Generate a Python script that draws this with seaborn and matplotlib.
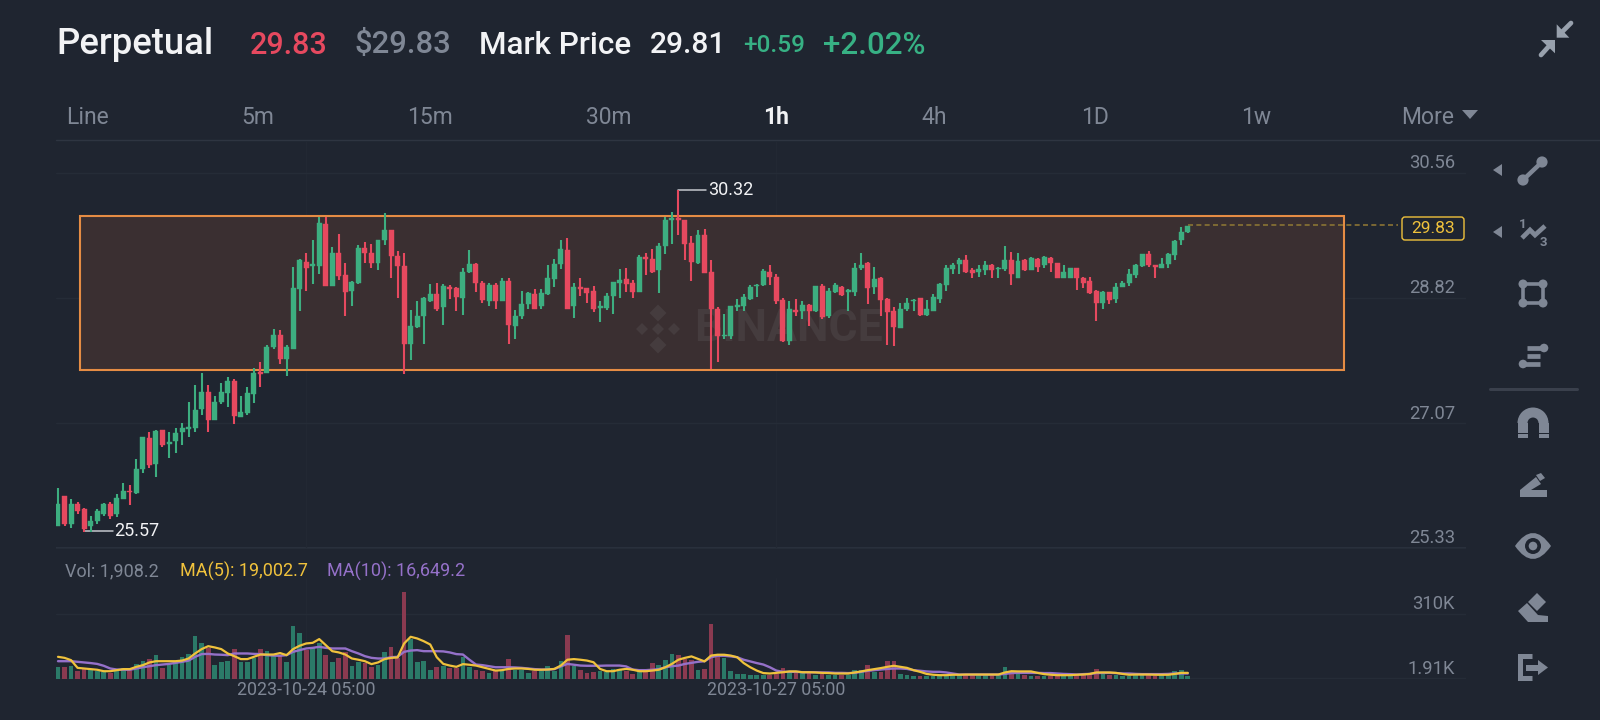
import numpy as np
import pandas as pd
import matplotlib
matplotlib.use("Agg")
import matplotlib.pyplot as plt
from matplotlib.patches import Rectangle, Polygon, Circle, Wedge, PathPatch, FancyBboxPatch
from matplotlib.path import Path
from matplotlib.transforms import ScaledTranslation
import seaborn as sns

open_px = [25.64,26.05,25.66,25.94,25.88,25.64,25.71,25.80,25.94,25.81,
 26.02,26.13,26.10,26.43,26.87,26.50,26.97,26.78,26.82,26.95,
 26.99,27.01,27.27,27.51,27.12,27.36,27.49,27.66,27.16,27.21,
 27.48,27.78,27.77,28.14,28.30,27.96,28.11,28.94,29.32,29.26,
 29.26,29.85,28.99,29.45,29.14,28.91,29.02,29.52,29.45,29.30,
 29.62,29.77,29.40,29.26,28.18,28.41,28.56,28.78,28.87,28.69,
 28.97,28.95,28.81,29.18,29.29,29.03,28.77,29.00,28.77,29.05,
 28.43,28.56,28.73,28.87,28.70,28.87,29.08,29.29,29.49,28.71,
 28.97,28.95,28.91,28.68,28.68,28.84,29.03,29.08,29.03,28.90,
 29.39,29.36,29.21,29.54,29.90,29.93,29.90,29.58,29.31,29.70,
 29.18,28.67,28.28,28.29,28.69,28.70,28.80,28.98,29.00,29.18,
 29.11,28.79,28.22,28.65,28.64,28.72,28.63,28.98,28.56,28.90,
 28.97,28.90,28.90,29.23,29.30,28.97,29.10,28.80,28.63,28.40,
 28.66,28.77,28.81,28.58,28.64,28.80,29.00,29.22,29.29,29.34,
 29.21,29.18,29.21,29.28,29.22,29.22,29.35,29.10,29.34,29.21,
 29.36,29.28,29.38,29.31,29.10,29.10,29.23,29.10,29.05,28.92,
 28.74,28.90,28.80,28.97,29.02,29.14,29.26,29.43,29.27,29.24,
 29.29,29.42,29.62,29.73]
close_px = [25.95,25.66,25.94,25.85,25.60,25.71,25.84,25.94,25.78,26.03,
 26.12,26.11,26.43,26.88,26.49,26.96,26.77,26.81,26.94,27.00,
 27.02,27.26,27.51,27.12,27.37,27.50,27.66,27.17,27.22,27.49,
 27.77,27.75,28.14,28.30,27.96,28.13,28.95,29.34,29.24,29.29,
 29.86,28.98,29.45,29.12,28.90,29.04,29.52,29.45,29.30,29.62,
 29.77,29.40,29.26,28.18,28.43,28.57,28.81,28.87,28.67,28.98,
 28.94,28.83,29.18,29.29,29.02,28.79,29.00,28.78,29.05,28.44,
 28.57,28.73,28.89,28.67,28.88,29.09,29.29,29.50,28.67,28.97,
 28.94,28.89,28.66,28.70,28.84,29.04,29.07,29.01,28.90,29.39,
 29.36,29.18,29.54,29.91,29.93,29.90,29.57,29.32,29.70,29.17,
 28.67,28.29,28.30,28.70,28.72,28.83,28.97,29.00,29.19,29.11,
 28.77,28.22,28.67,28.62,28.72,28.63,28.98,28.55,28.92,29.00,
 28.86,28.93,29.24,29.28,28.96,29.08,28.79,28.62,28.41,28.67,
 28.74,28.79,28.58,28.66,28.83,29.01,29.24,29.28,29.35,29.18,
 29.16,29.22,29.28,29.21,29.24,29.34,29.15,29.33,29.21,29.37,
 29.25,29.39,29.30,29.10,29.18,29.23,29.09,29.02,28.88,28.74,
 28.90,28.79,28.97,29.03,29.15,29.27,29.43,29.27,29.25,29.29,
 29.43,29.61,29.73,29.82]
high_px = [26.17,26.05,26.01,25.97,25.89,25.77,25.87,25.96,25.97,26.09,
 26.23,26.21,26.57,26.88,26.95,26.97,26.97,26.95,27.00,27.07,
 27.37,27.60,27.77,27.61,27.45,27.63,27.71,27.69,27.45,27.57,
 27.84,27.93,28.16,28.38,28.37,28.16,29.25,29.36,29.45,29.63,
 29.95,29.95,29.53,29.71,29.31,29.05,29.56,29.60,29.57,29.63,
 30.00,29.77,29.47,29.45,28.65,28.77,28.83,29.01,29.02,29.01,
 29.00,28.97,29.24,29.49,29.31,29.05,29.02,29.03,29.10,29.10,
 28.65,28.92,28.90,28.94,28.94,29.28,29.36,29.63,29.66,29.03,
 29.09,28.96,28.99,28.77,28.89,29.04,29.22,29.24,29.07,29.41,
 29.44,29.50,29.59,29.94,30.01,30.32,29.91,29.68,29.77,29.78,
 29.34,28.69,28.60,28.70,28.80,28.87,29.00,29.01,29.22,29.27,
 29.15,28.82,28.77,28.80,28.77,28.73,28.98,29.01,28.95,29.02,
 28.99,28.94,29.30,29.45,29.32,29.25,29.11,28.82,28.69,28.74,
 28.81,28.80,28.82,28.79,28.87,29.02,29.27,29.31,29.38,29.42,
 29.24,29.28,29.33,29.29,29.25,29.54,29.46,29.44,29.36,29.39,
 29.37,29.40,29.39,29.31,29.27,29.24,29.24,29.11,29.11,28.93,
 28.91,28.90,29.02,29.05,29.22,29.29,29.43,29.47,29.28,29.37,
 29.44,29.63,29.80,29.82]
low_px = [25.64,25.64,25.61,25.80,25.56,25.56,25.67,25.78,25.73,25.76,
 26.01,25.93,26.09,26.37,26.44,26.32,26.74,26.59,26.66,26.76,
 26.88,26.95,27.18,26.95,27.11,27.34,27.29,27.06,27.15,27.18,
 27.35,27.57,27.77,28.10,27.90,27.73,28.10,28.63,28.91,29.01,
 29.15,28.98,28.99,29.07,28.57,28.71,29.01,29.30,29.24,29.21,
 29.56,29.09,28.82,27.76,27.95,28.40,28.17,28.76,28.63,28.44,
 28.80,28.64,28.58,29.16,28.90,28.75,28.71,28.66,28.77,28.18,
 28.25,28.52,28.66,28.66,28.66,28.86,28.97,29.22,28.66,28.54,
 28.84,28.74,28.62,28.48,28.65,28.60,28.81,28.90,28.82,28.90,
 29.14,29.17,28.89,29.43,29.57,29.70,29.35,29.06,29.29,29.16,
 27.82,27.92,28.24,28.24,28.63,28.64,28.79,28.83,28.99,29.00,
 28.73,28.20,28.16,28.57,28.52,28.43,28.62,28.53,28.54,28.88,
 28.84,28.64,28.84,29.21,28.73,28.87,28.56,28.16,28.15,28.40,
 28.63,28.63,28.57,28.57,28.63,28.74,28.91,29.15,29.15,29.17,
 29.09,29.11,29.14,29.09,29.10,29.19,29.00,29.09,29.19,29.20,
 29.18,29.23,29.18,29.09,29.09,29.09,28.93,28.95,28.87,28.50,
 28.67,28.73,28.74,28.97,28.98,29.10,29.25,29.25,29.10,29.23,
 29.23,29.35,29.56,29.72]

volume_k = [56,56,61,37,45,40,37,29,27,37,51,40,69,85,93,112,51,67,77,101,
 117,206,168,144,67,80,83,141,80,80,96,141,134,112,112,80,254,218,136,152,
 168,115,77,96,125,59,80,72,56,67,125,152,96,413,189,80,83,43,54,62,
 51,51,102,54,43,38,27,34,34,94,43,42,27,34,38,59,38,83,208,59,
 43,26,32,35,30,46,46,38,22,30,34,74,66,90,118,115,94,90,43,46,
 262,102,99,35,22,22,19,19,19,19,22,50,26,26,24,24,19,21,19,18,
 16,19,40,40,66,32,32,82,85,21,19,11,13,11,11,11,16,16,16,19,
 16,16,16,19,19,53,32,21,19,14,13,13,14,14,16,13,16,19,24,45,
 21,19,19,13,13,24,16,16,14,16,19,35,40,10]
ma5_k = [104,99,88,51,48,45,42,35,35,40,45,45,56,64,77,83,83,83,83,86,
 96,120,141,155,149,141,120,107,93,93,104,115,115,115,122,112,141,157,168,171,
 189,160,131,125,115,96,90,83,69,77,93,99,101,168,200,192,179,163,102,70,
 62,56,69,66,62,54,46,38,40,46,48,48,46,42,42,43,46,62,90,93,
 90,86,78,46,35,35,42,46,42,35,35,38,42,54,70,90,99,106,94,82,
 110,114,114,110,102,74,54,38,26,24,27,30,34,34,30,30,29,27,26,24,
 24,24,29,34,40,45,50,56,61,56,51,40,32,22,18,16,16,18,18,19,
 19,19,19,19,19,29,35,34,34,34,27,21,18,16,16,16,18,19,22,29,
 29,29,27,22,18,19,19,19,18,18,18,22,27,27]
ma10_k = [83,83,83,80,77,74,70,61,48,43,42,42,48,54,59,64,67,70,75,80,
 86,104,117,118,115,114,112,120,120,120,118,117,112,110,109,112,128,136,144,147,
 152,147,144,144,144,131,120,107,99,96,96,102,104,128,134,136,131,131,131,130,
 125,117,115,90,67,64,59,54,54,54,53,51,48,45,43,43,45,58,70,66,
 62,61,61,61,62,62,62,58,43,40,40,42,45,54,59,62,70,75,80,83,
 102,109,109,106,102,90,82,74,67,54,38,32,32,32,30,30,30,29,29,27,
 27,26,27,32,37,40,43,46,48,48,46,40,37,34,32,32,29,24,19,19,
 19,19,19,19,19,22,26,27,27,27,27,26,26,24,22,21,19,21,22,26,
 27,27,26,24,24,22,21,21,21,21,22,24,24,24]

price_ticks = [30.56, 28.82, 27.07, 25.33]
volume_ticks = [1.91, 310]
volume_tick_labels = ["1.91K", "310K"]
date_ticks = [38, 110]
date_labels = ["2023-10-24 05:00", "2023-10-27 05:00"]
range_low, range_high = 27.81, 29.96
range_start, range_end = 3.4, 196.9
last_price = 29.83
peak_price, trough_price = 30.32, 25.57
peak_index, trough_index = 95, 4
tabs = ["Line", "5m", "15m", "30m", "1h", "4h", "1D", "1w", "More"]

BG = "#1f2530"
GREEN = "#3dae80"
RED = "#e6495f"
VGREEN = "#2b7a68"
VRED = "#8a3a50"
GRAY = "#7f8795"
TEXT = "#f2f3f5"
YELLOW = "#f0c23c"
PURPLE = "#9571c9"
ORANGE = "#e58c44"
GRID = "#252c37"

sns.set_theme(style="dark", rc={"axes.facecolor": "none", "figure.facecolor": BG,
                                "savefig.facecolor": BG, "axes.grid": False})
plt.rcParams["font.family"] = ["Roboto", "DejaVu Sans"]

fig = plt.figure(figsize=(16, 7.2), dpi=100)
def rect(l, t, r, b):
    return [l / 1600, 1 - b / 720, (r - l) / 1600, (b - t) / 720]

ov = fig.add_axes([0, 0, 1, 1], zorder=0)
ov.set_xlim(0, 1600); ov.set_ylim(720, 0); ov.axis("off")
ax = fig.add_axes(rect(56, 141, 1466, 549), zorder=2)
vx = fig.add_axes(rect(56, 578, 1466, 678.5), zorder=2)
lift = ScaledTranslation(0, 0.5 / 100, fig.dpi_scale_trans)

XLIM = (-0.306, 215.6)
candles = pd.DataFrame({"i": np.arange(len(open_px)), "open": open_px, "close": close_px,
                        "high": high_px, "low": low_px})
candles["up"] = candles["close"] >= candles["open"]
candles["color"] = np.where(candles["up"], GREEN, RED)

# price panel
ax.add_patch(Rectangle((range_start, range_low), range_end - range_start, range_high - range_low,
                       facecolor="#3a2f31", edgecolor=ORANGE, linewidth=1.5, zorder=1))
ax.vlines(candles["i"], candles["low"], candles["high"], colors=candles["color"], linewidth=1.5, zorder=3)
ax.bar(candles["i"], (candles["close"] - candles["open"]).abs(),
       bottom=candles[["open", "close"]].min(axis=1), width=0.76,
       color=candles["color"], edgecolor=candles["color"], linewidth=0.3, zorder=4)
ax.set_xlim(*XLIM); ax.set_ylim(25.316, 31.006)
ax.set_xticks(date_ticks); ax.set_xticklabels([])
ax.yaxis.tick_right()
ax.set_yticks(price_ticks, labels=[f"{v:.2f}" for v in price_ticks])
ax.tick_params(axis="both", length=0)
ax.tick_params(axis="y", pad=-7.9, labelsize=13.2, labelcolor=GRAY)
for lab in ax.get_yticklabels():
    lab.set_ha("right"); lab.set_va("bottom")
    lab.set_transform(lab.get_transform() + lift)
ax.grid(True, axis="y", color=GRID, linewidth=1, zorder=0)
ax.grid(True, axis="x", color="#222833", linewidth=1, zorder=0)
ax.axhline(price_ticks[-1], color="#2e3541", linewidth=1.2, zorder=0)
for s in ax.spines.values():
    s.set_visible(False)

# dashed last price
ax.plot([candles["i"].iloc[-1], 205.2], [last_price, last_price], color="#8a7434",
        linewidth=1.2, dashes=(3, 2), zorder=2)
# high / low markers
ax.plot([peak_index, peak_index, peak_index + 4.2], [high_px[peak_index], peak_price, peak_price],
        color="#c4c7cd", linewidth=1.1, zorder=2)
ax.text(peak_index + 4.5, peak_price, f"{peak_price:.2f}", color=TEXT, fontsize=13, va="center", zorder=6)
ax.plot([trough_index, trough_index + 4.4], [trough_price, trough_price], color="#c4c7cd", linewidth=1.1, zorder=2)
ax.text(trough_index + 4.6, trough_price, f"{trough_price:.2f}", color=TEXT, fontsize=13, va="center", zorder=6)

# watermark above the box fill, below the candles
WM = "#453c3e"
ax.text(694, 329, "BINANCE", transform=ov.transData, color=WM, fontsize=32,
        fontweight="bold", va="center", ha="left", zorder=2)
for dx, dy, r in [(0, -16, 8.5), (-16, 0, 6), (16, 0, 6), (0, 0, 6), (0, 16, 8.5)]:
    ax.add_patch(Polygon([(658 + dx, 329 + dy - r), (658 + dx + r, 329 + dy),
                          (658 + dx, 329 + dy + r), (658 + dx - r, 329 + dy)],
                         transform=ov.transData, facecolor=WM, edgecolor="none", zorder=2))

# last price tag
ov_tag = FancyBboxPatch((1402, 217), 62, 23, boxstyle="round,pad=0,rounding_size=3",
                        facecolor=BG, edgecolor=YELLOW, linewidth=1, zorder=5, transform=ov.transData)
ax.add_patch(ov_tag)
ax.text(1433, 228.5, f"{last_price:.2f}", transform=ov.transData, color=YELLOW, fontsize=12.5,
        ha="center", va="center", zorder=6)

# volume panel
vol = pd.DataFrame({"i": candles["i"], "vol": volume_k,
                    "dir": np.where(candles["up"], "up", "down")})
sns.barplot(data=vol, x="i", y="vol", hue="dir", palette={"up": VGREEN, "down": VRED},
            native_scale=True, dodge=False, width=0.72, saturation=1, legend=False,
            ax=vx, zorder=3, linewidth=0)
sns.lineplot(x=candles["i"], y=ma10_k, color=PURPLE, linewidth=1.7, ax=vx, zorder=4)
sns.lineplot(x=candles["i"], y=ma5_k, color=YELLOW, linewidth=1.6, ax=vx, zorder=5)
vx.set_xlim(*XLIM); vx.set_ylim(0, 482)
vx.set_xlabel(""); vx.set_ylabel("")
vx.set_xticks(date_ticks, labels=date_labels)
vx.yaxis.tick_right()
vx.set_yticks(volume_ticks, labels=volume_tick_labels)
vx.tick_params(axis="both", length=0)
vx.tick_params(axis="x", labelsize=12.8, labelcolor=GRAY, pad=1.5)
vx.tick_params(axis="y", pad=-7.9, labelsize=13.2, labelcolor=GRAY)
for lab in vx.get_yticklabels():
    lab.set_ha("right"); lab.set_va("bottom")
    lab.set_transform(lab.get_transform() + lift)
vx.grid(True, axis="y", color=GRID, linewidth=1, zorder=0)
vx.grid(True, axis="x", color="#222833", linewidth=1, zorder=0)
for s in vx.spines.values():
    s.set_visible(False)

# header
def t(x, y, s, color=GRAY, size=13, ha="left", weight="normal"):
    ov.text(x, y, s, color=color, fontsize=size, ha=ha, va="center", fontweight=weight)
t(56, 45, "Perpetual", TEXT, 26.3, weight="medium")
t(250, 45, "29.83", RED, 22, weight="medium")
t(354, 45, "$29.83", GRAY, 22.3, weight="medium")
t(479, 45, "Mark Price", TEXT, 22.7, weight="medium")
t(650, 45, "29.81", TEXT, 21.6, weight="medium")
t(743, 45, "+0.59", "#37b184", 17.5, weight="medium")
t(823, 45, "+2.02%", "#37b184", 22.5, weight="medium")
tab_x = [66, 241, 407, 586, 763, 921, 1081, 1241, 1401]
for s, x in zip(tabs, tab_x):
    t(x, 118, s, TEXT if s == "1h" else GRAY, 16.5, weight="bold" if s == "1h" else "normal")
ov.add_patch(Polygon([(1462, 110), (1478, 110), (1470, 119)], facecolor=GRAY, edgecolor="none"))
ov.plot([56, 1600], [140, 140], color="#2e3541", linewidth=1)

# volume legend
t(65, 571, "Vol: 1,908.2", GRAY, 13)
t(180, 571, "MA(5): 19,002.7", YELLOW, 13)
t(327, 571, "MA(10): 16,649.2", PURPLE, 13)

# toolbar icons
IC = "#7f8795"
def line(xs, ys, w=3.2):
    ov.plot(xs, ys, color=IC, linewidth=w, solid_capstyle="butt", solid_joinstyle="miter")
def circ(x, y, r):
    ov.add_patch(Circle((x, y), r, facecolor=IC, edgecolor="none"))
def poly(pts, c=IC):
    ov.add_patch(Polygon(pts, facecolor=c, edgecolor="none"))
poly([(1502, 164), (1502, 176), (1493, 170)])
poly([(1502, 226), (1502, 238), (1493, 232)])
circ(1523, 180, 5.6); circ(1542, 162, 5.6); line([1523, 1542], [180, 162])
line([1522, 1530, 1535, 1545], [238, 230, 235, 226], 3.4)
ov.text(1522.5, 224, "1", color=IC, fontsize=9.5, fontweight="bold", ha="center", va="center")
ov.text(1543, 242, "3", color=IC, fontsize=9.5, fontweight="bold", ha="center", va="center")
for px, py in [(1523, 284), (1543, 284), (1523, 303), (1543, 303)]:
    circ(px, py, 4.5)
ov.add_patch(Rectangle((1523, 284), 20, 19, fill=False, edgecolor=IC, linewidth=2.6))
line([1527, 1544], [348, 348], 3.4); circ(1544, 348, 4.3)
line([1527, 1540], [356, 356], 3.4)
line([1523, 1540], [364, 364], 3.4); circ(1523, 364, 4.3)
ov.plot([1490, 1577], [389, 389], color="#3a404c", linewidth=2.2)
ov.add_patch(Wedge((1533, 423), 15.5, 180, 360, width=10, facecolor=IC, edgecolor="none"))
ov.add_patch(Rectangle((1517.5, 423), 10, 9.5, facecolor=IC, edgecolor="none"))
ov.add_patch(Rectangle((1538.5, 423), 10, 9.5, facecolor=IC, edgecolor="none"))
ov.add_patch(Rectangle((1517.5, 434), 10, 4, facecolor=IC, edgecolor="none"))
ov.add_patch(Rectangle((1538.5, 434), 10, 4, facecolor=IC, edgecolor="none"))
poly([(1520, 497), (1520, 490), (1536, 477), (1541, 484), (1531, 490), (1547, 490), (1547, 497)])
poly([(1536, 475), (1541, 473), (1545, 478), (1540, 481)])
ov.add_patch(PathPatch(Path([(1515, 546), (1533, 520), (1551, 546), (1533, 572), (1515, 546)],
                            [Path.MOVETO, Path.CURVE3, Path.CURVE3, Path.CURVE3, Path.CURVE3]),
                       facecolor=IC, edgecolor="none"))
ov.add_patch(Circle((1533, 546), 8, facecolor=BG, edgecolor="none"))
circ(1533, 546, 4.3)
poly([(1537, 593), (1546, 602), (1537, 611), (1528, 602)])
poly([(1518, 611), (1527, 603), (1538, 615), (1548, 616), (1548, 622), (1528, 622)])
line([1532, 1520, 1520, 1532], [656, 656, 678, 678], 3.6)
ov.add_patch(Rectangle((1526, 664.5), 12, 6.5, facecolor=IC, edgecolor="none"))
poly([(1538, 660), (1548, 667.5), (1538, 675)])
CORNER = "#98a1ad"
poly([(1556.7, 37.7), (1556.7, 24.3), (1569.3, 37.7)], CORNER)
ov.plot([1561, 1571], [33, 23], color=CORNER, linewidth=3.4)
poly([(1555, 40), (1541, 40), (1555, 53.3)], CORNER)
ov.plot([1550, 1541], [45, 55], color=CORNER, linewidth=3.4)

fig.savefig("out.png", dpi=100)
